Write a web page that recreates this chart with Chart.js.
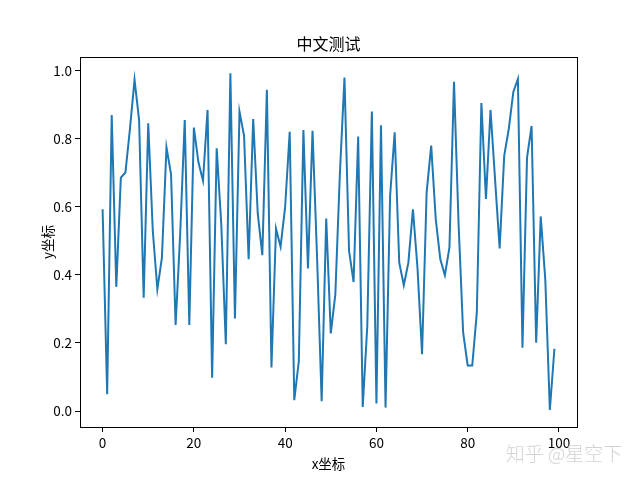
<!DOCTYPE html>
<html>
<head>
<meta charset="utf-8">
<script src="https://cdn.jsdelivr.net/npm/chart.js@4/dist/chart.umd.min.js"></script>
<style>
html, body { margin: 0; padding: 0; background: #fff; }
#contenedor { width: 640px; height: 480px; }
</style>
</head>
<body>
<div id="contenedor"><canvas id="grafico"></canvas></div>
<script>
// Textos del gráfico
const titulo = "中文测试";
const etiquetaX = "x坐标";
const etiquetaY = "y坐标";
const marcaAgua = "知乎 @星空下";

// Valores (100 puntos)
const valoresY = [
    0.593, 0.049, 0.870, 0.365, 0.686, 0.701, 0.830, 0.974, 0.855, 0.333,
    0.846, 0.530, 0.358, 0.451, 0.775, 0.696, 0.253, 0.520, 0.855, 0.253,
    0.833, 0.731, 0.677, 0.885, 0.098, 0.772, 0.550, 0.196, 0.993, 0.272,
    0.880, 0.809, 0.446, 0.858, 0.580, 0.458, 0.944, 0.128, 0.536, 0.483,
    0.600, 0.821, 0.032, 0.147, 0.826, 0.419, 0.824, 0.450, 0.029, 0.566,
    0.228, 0.343, 0.700, 0.980, 0.471, 0.379, 0.807, 0.012, 0.250, 0.880,
    0.022, 0.840, 0.010, 0.632, 0.819, 0.436, 0.370, 0.436, 0.593, 0.420,
    0.167, 0.642, 0.780, 0.564, 0.446, 0.399, 0.481, 0.968, 0.550, 0.231,
    0.134, 0.134, 0.289, 0.905, 0.623, 0.885, 0.680, 0.478, 0.750, 0.829,
    0.938, 0.976, 0.186, 0.745, 0.838, 0.201, 0.572, 0.387, 0.003, 0.183
];
const valoresX = valoresY.map((_, i) => i);

// Marcas de los ejes
const ticksX = [0, 20, 40, 60, 80, 100];
const ticksY = [0.0, 0.2, 0.4, 0.6, 0.8, 1.0];

Chart.defaults.font.family = '"Noto Sans CJK SC", "Noto Sans", sans-serif';
Chart.defaults.color = "#000";

// Marco completo alrededor del área (estilo matplotlib)
const marcoPlugin = {
    id: "marco",
    afterDatasetsDraw(chart) {
        const { ctx, chartArea: a } = chart;
        ctx.save();
        ctx.strokeStyle = "#000";
        ctx.lineWidth = 1;
        ctx.strokeRect(Math.round(a.left) + 0.5, Math.round(a.top) + 0.5,
            Math.round(a.right - a.left), Math.round(a.bottom - a.top));
        ctx.restore();
    }
};

// Marca de agua en la esquina inferior derecha
const marcaAguaPlugin = {
    id: "marcaAgua",
    afterDraw(chart) {
        const { ctx } = chart;
        ctx.save();
        ctx.font = '300 19px "Noto Sans CJK SC", sans-serif';
        ctx.fillStyle = "#d2d2d2";
        ctx.textAlign = "center";
        ctx.textBaseline = "middle";
        ctx.fillText(marcaAgua, 564, 454);
        ctx.restore();
    }
};

const ejeComun = {
    grid: { drawOnChartArea: false, drawTicks: true, tickLength: 5, color: "#000", lineWidth: 1 },
    border: { display: false },
    ticks: { font: { size: 13.5 }, color: "#000", padding: 3 }
};

new Chart(document.getElementById("grafico"), {
    type: "line",
    data: {
        datasets: [{
            data: valoresX.map((x, i) => ({ x: x, y: valoresY[i] })),
            borderColor: "#1f77b4",
            borderWidth: 2,
            pointRadius: 0,
            tension: 0,
            fill: false
        }]
    },
    options: {
        responsive: true,
        maintainAspectRatio: false,
        animation: false,
        layout: { padding: { left: 17, right: 0, top: 0, bottom: 0 } },
        plugins: {
            legend: { display: false },
            tooltip: { enabled: false },
            title: {
                display: true,
                text: titulo,
                color: "#000",
                font: { size: 16, weight: "normal" },
                padding: { top: 34, bottom: 4 }
            }
        },
        scales: {
            x: {
                type: "linear",
                min: -4.95,
                max: 103.95,
                ...ejeComun,
                afterBuildTicks: s => { s.ticks = ticksX.map(v => ({ value: v })); },
                afterFit: s => { s.height = 53; },
                title: { display: true, text: etiquetaX, font: { size: 13.5 }, color: "#000", padding: { top: 0, bottom: 8 } }
            },
            y: {
                min: -0.047,
                max: 1.04,
                ...ejeComun,
                ticks: { ...ejeComun.ticks, callback: v => v.toFixed(1) },
                afterBuildTicks: s => { s.ticks = ticksY.map(v => ({ value: v })); },
                afterFit: s => { s.width = 63; },
                title: { display: true, text: etiquetaY, font: { size: 13.5 }, color: "#000", padding: { top: 23, bottom: 0 } }
            },
            // eje vacío a la derecha para reservar el margen
            derecha: {
                type: "linear",
                axis: "y",
                position: "right",
                display: true,
                grid: { display: false },
                border: { display: false },
                ticks: { display: false },
                afterFit: s => { s.width = 63; }
            }
        }
    },
    plugins: [marcoPlugin, marcaAguaPlugin]
});
</script>
</body>
</html>
